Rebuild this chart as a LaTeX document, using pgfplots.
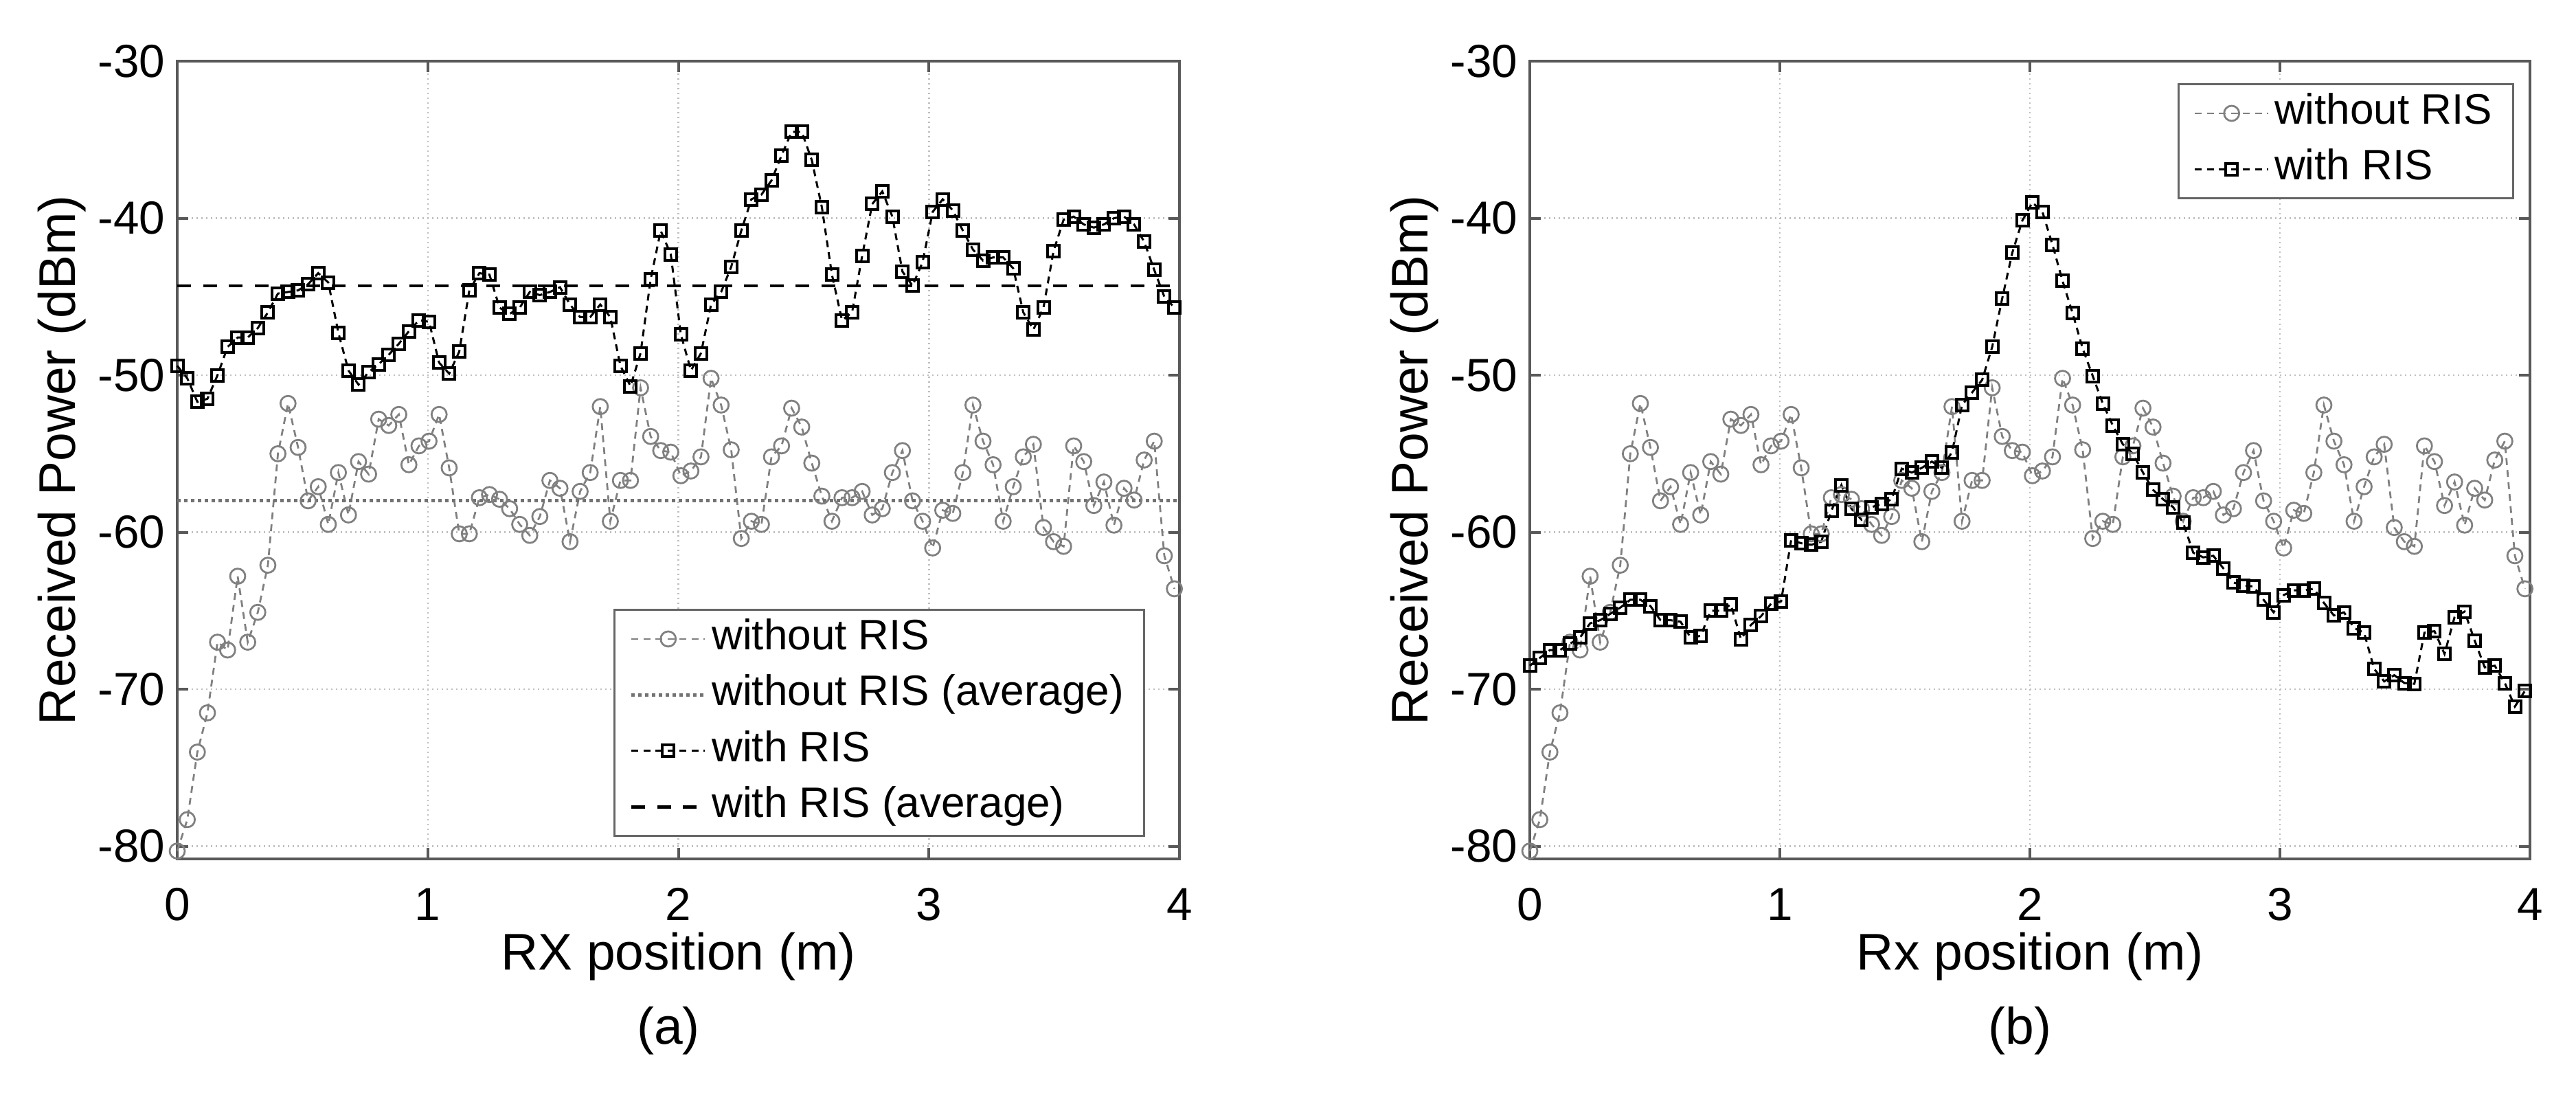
\documentclass[border=0pt]{standalone}
\usepackage{pgfplots}
\pgfplotsset{compat=1.18}
\usepackage{pgfplotstable}
\usepackage{fontspec}
\setmainfont{Liberation Sans}

\pgfplotstableread{
x wo wa wb
0 -80.3 -49.4 -68.5
0.0402 -78.3 -50.2 -68.0
0.0804 -74.0 -51.7 -67.5
0.1206 -71.5 -51.5 -67.5
0.1608 -67.0 -50.0 -67.1
0.201 -67.5 -48.2 -66.7
0.2412 -62.8 -47.6 -65.8
0.2814 -67.0 -47.6 -65.6
0.3216 -65.1 -47.0 -65.2
0.3618 -62.1 -46.0 -64.8
0.402 -55.0 -44.8 -64.3
0.4422 -51.8 -44.7 -64.3
0.4824 -54.6 -44.6 -64.7
0.5226 -58.0 -44.2 -65.6
0.5628 -57.1 -43.5 -65.6
0.603 -59.5 -44.1 -65.7
0.6432 -56.2 -47.3 -66.7
0.6834 -58.9 -49.7 -66.6
0.7236 -55.5 -50.6 -65.0
0.7638 -56.3 -49.8 -65.0
0.804 -52.8 -49.3 -64.6
0.8442 -53.2 -48.7 -66.8
0.8844 -52.5 -48.0 -65.9
0.9246 -55.7 -47.2 -65.35
0.9648 -54.5 -46.5 -64.55
1.005 -54.2 -46.6 -64.4
1.0452 -52.5 -49.2 -60.5
1.0854 -55.9 -49.9 -60.7
1.1256 -60.1 -48.5 -60.8
1.1658 -60.1 -44.6 -60.6
1.206 -57.8 -43.5 -58.65
1.2462 -57.6 -43.6 -57.0
1.2864 -57.9 -45.7 -58.5
1.3266 -58.5 -46.1 -59.2
1.3668 -59.5 -45.7 -58.4
1.407 -60.2 -44.7 -58.2
1.4472 -59.0 -44.9 -57.9
1.4874 -56.7 -44.7 -55.95
1.5276 -57.2 -44.4 -56.2
1.5678 -60.6 -45.5 -55.9
1.608 -57.4 -46.3 -55.5
1.6482 -56.2 -46.3 -55.9
1.6884 -52.0 -45.5 -54.9
1.7286 -59.3 -46.3 -51.9
1.7688 -56.7 -49.4 -51.1
1.809 -56.7 -50.7 -50.3
1.8492 -50.8 -48.6 -48.2
1.8894 -53.9 -43.9 -45.1
1.9296 -54.8 -40.8 -42.2
1.9698 -54.9 -42.3 -40.15
2.01 -56.4 -47.4 -39.0
2.0502 -56.1 -49.7 -39.6
2.0904 -55.2 -48.6 -41.7
2.1306 -50.2 -45.5 -44.0
2.1708 -51.9 -44.7 -46.05
2.211 -54.75 -43.1 -48.3
2.2512 -60.4 -40.8 -50.05
2.2914 -59.3 -38.8 -51.8
2.3316 -59.5 -38.5 -53.2
2.3718 -55.2 -37.6 -54.4
2.412 -54.5 -36.0 -55.0
2.4522 -52.1 -34.5 -56.2
2.4924 -53.3 -34.5 -57.3
2.5326 -55.6 -36.3 -57.9
2.5728 -57.7 -39.3 -58.4
2.613 -59.3 -43.6 -59.4
2.6532 -57.8 -46.5 -61.3
2.6934 -57.8 -46.0 -61.6
2.7336 -57.4 -42.4 -61.5
2.7738 -58.9 -39.1 -62.3
2.814 -58.5 -38.3 -63.2
2.8542 -56.2 -39.9 -63.4
2.8944 -54.8 -43.4 -63.45
2.9346 -58.0 -44.3 -64.3
2.9748 -59.3 -42.8 -65.1
3.015 -61.0 -39.6 -64.0
3.0552 -58.6 -38.8 -63.7
3.0954 -58.8 -39.5 -63.7
3.1356 -56.2 -40.8 -63.6
3.1758 -51.9 -42.0 -64.5
3.216 -54.2 -42.7 -65.3
3.2562 -55.7 -42.5 -65.1
3.2964 -59.3 -42.5 -66.1
3.3366 -57.1 -43.2 -66.4
3.3768 -55.2 -46.0 -68.7
3.417 -54.4 -47.1 -69.5
3.4572 -59.7 -45.7 -69.1
3.4974 -60.6 -42.1 -69.6
3.5376 -60.9 -40.1 -69.65
3.5778 -54.5 -39.9 -66.4
3.618 -55.5 -40.4 -66.3
3.6582 -58.3 -40.6 -67.75
3.6984 -56.8 -40.4 -65.4
3.7386 -59.55 -40.0 -65.05
3.7788 -57.2 -39.9 -66.9
3.819 -57.95 -40.4 -68.6
3.8592 -55.4 -41.5 -68.5
3.8994 -54.2 -43.3 -69.6
3.9396 -61.5 -45.0 -71.1
3.9798 -63.6 -45.7 -70.1
}\datatable

\pgfplotsset{
  myaxis/.style={
    scale only axis, width=291.8pt, height=232.2pt,
    xmin=0, xmax=4, ymin=-80.8, ymax=-30,
    clip=false,
    xtick={0,1,2,3,4}, ytick={-80,-70,-60,-50,-40,-30},
    grid=major, major grid style={densely dotted, black!25, line width=0.5pt},
    axis line style={black!65, line width=0.8pt},
    tick style={black!65, line width=0.8pt}, major tick length=3.2pt, tick align=inside,
    /pgf/number format/assume math mode=true,
    ticklabel style={font=\fontsize{13.5}{16}\selectfont},
    xticklabel style={yshift=-5pt},
    label style={font=\fontsize{15}{18}\selectfont},
    xlabel style={at={(axis description cs:0.5,-0.1387)}, anchor=base},
    ylabel style={at={(axis description cs:-0.115,0.5)}, anchor=center},
    legend cell align=left,
    legend image code/.code={\draw[mark repeat=2,mark phase=2,##1] plot coordinates {(0pt,0pt) (10.7pt,0pt) (21.4pt,0pt)};},
    legend style={draw=black!60, line width=0.6pt, fill=white, font=\fontsize{12.4}{14}\selectfont, inner xsep=4.5pt, inner ysep=1pt, row sep=1.5pt, nodes={inner sep=1.5pt, text height=9pt, text depth=2.8pt}},
  },
  woris/.style={black!50, line width=0.55pt, dash pattern=on 2pt off 1.5pt, mark=o, mark size=2.2pt, mark options={solid, line width=0.55pt}},
  wris/.style={black, line width=0.6pt, dash pattern=on 2pt off 1.5pt, mark=square, mark size=1.7pt, mark options={solid, line width=0.8pt}},
}

\begin{document}
\begin{tikzpicture}
\path[use as bounding box] (0,0) rectangle (750pt,326pt);
\begin{axis}[myaxis, at={(51.6pt,76pt)}, anchor=south west,
  xlabel={RX position (m)}, ylabel={Received Power (dBm)},
  legend style={at={(0.966,0.0276)}, anchor=south east}]
\addplot[woris] table[x=x,y=wo]{\datatable};
\addlegendentry{without RIS}
\addplot[black!55, line width=1pt, dash pattern=on 1pt off 1pt] coordinates {(0,-58) (4,-58)};
\addlegendentry{without RIS (average)}
\addplot[wris] table[x=x,y=wa]{\datatable};
\addlegendentry{with RIS}
\addplot[black, line width=0.9pt, dash pattern=on 4pt off 3.5pt] coordinates {(0,-44.3) (4,-44.3)};
\addlegendentry{with RIS (average)}
\node[font=\fontsize{15}{18}\selectfont] at (axis description cs:0.49,-0.215) {(a)};
\end{axis}
\begin{axis}[myaxis, at={(445.4pt,76pt)}, anchor=south west, width=291.2pt,
  xlabel={Rx position (m)}, ylabel={Received Power (dBm)},
  legend style={at={(0.984,0.972)}, anchor=north east}]
\addplot[woris] table[x=x,y=wo]{\datatable};
\addlegendentry{without RIS}
\addplot[wris] table[x=x,y=wb]{\datatable};
\addlegendentry{with RIS}
\node[font=\fontsize{15}{18}\selectfont] at (axis description cs:0.49,-0.215) {(b)};
\end{axis}
\end{tikzpicture}
\end{document}
